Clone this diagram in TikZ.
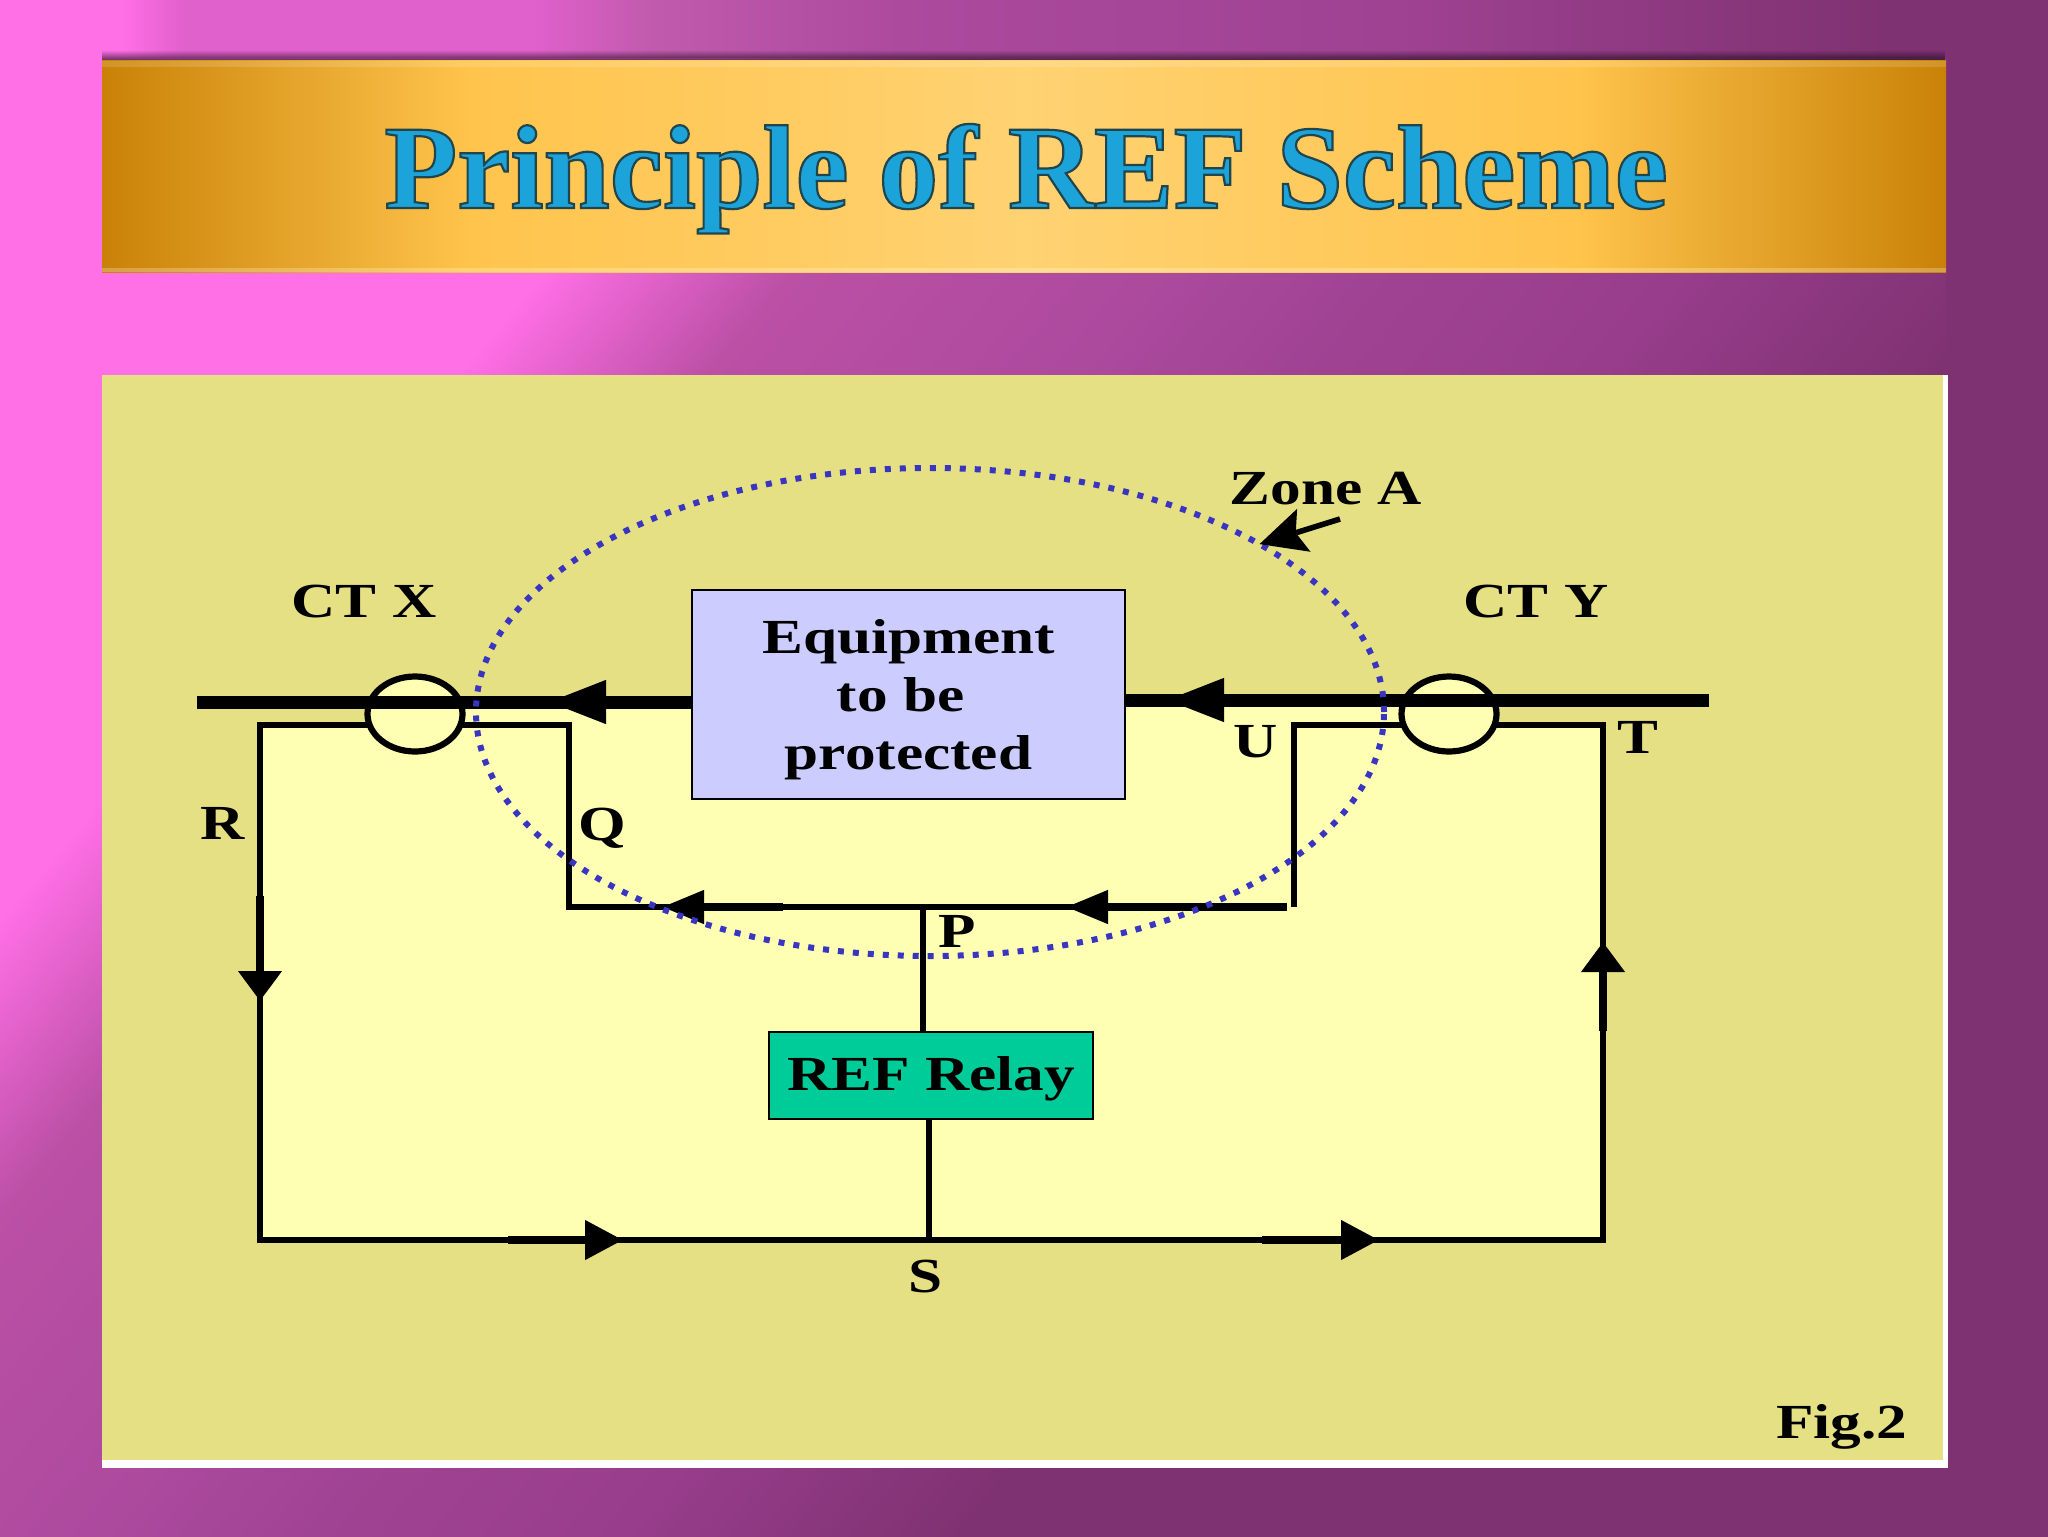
\documentclass[tikz,border=0pt]{standalone}
\usepackage{fontspec}
\setmainfont{Liberation Serif}[FakeStretch=1.25]
\newfontfamily\titlefont{Liberation Serif Bold}
\usetikzlibrary{arrows.meta,shapes.geometric,fadings}

\definecolor{bgpink}{HTML}{FF6FE6}
\definecolor{bgmidA}{HTML}{BB50A5}
\definecolor{bgmidB}{HTML}{AC4A9E}
\definecolor{bgmidC}{HTML}{9F4292}
\definecolor{bgmidD}{HTML}{983D8C}
\definecolor{bgdark}{HTML}{7F3272}
\definecolor{bgtopA}{HTML}{E060CC}
\definecolor{bgtopB}{HTML}{C05AAC}
\definecolor{goldedge}{HTML}{C98207}
\definecolor{goldA}{HTML}{FFC44C}
\definecolor{goldB}{HTML}{FFD272}
\definecolor{panelcol}{HTML}{E6E084}
\definecolor{loopcol}{HTML}{FFFFB3}
\definecolor{eqcol}{HTML}{CCCCFF}
\definecolor{relaycol}{HTML}{00CC99}
\definecolor{zonecol}{HTML}{3A35C0}
\definecolor{titlecol}{HTML}{1BA3DA}

% background runs along a tilted axis, stops are in the middle 50bp
\pgfdeclarehorizontalshading{slidebg}{100bp}{color(0bp)=(bgpink); color(36.8bp)=(bgpink);
  color(40.5bp)=(bgmidA); color(45.9bp)=(bgmidB); color(49.5bp)=(bgmidC); color(53.5bp)=(bgmidD);
  color(58.5bp)=(bgdark); color(100bp)=(bgdark)}
\pgfdeclarehorizontalshading{slidetop}{100bp}{color(0bp)=(bgpink); color(28bp)=(bgpink); color(29.5bp)=(bgtopA);
  color(38bp)=(bgtopA); color(41bp)=(bgtopB); color(47bp)=(bgmidB); color(59bp)=(bgmidC); color(71bp)=(bgdark); color(100bp)=(bgdark)}
\pgfdeclarehorizontalshading{titlebar}{100bp}{color(0bp)=(goldedge); color(25bp)=(goldedge); color(35bp)=(goldA);
  color(50bp)=(goldB); color(65bp)=(goldA); color(75bp)=(goldedge); color(100bp)=(goldedge)}

\tikzset{
  lbl/.style={font=\fontsize{24.5}{29}\selectfont\bfseries, inner sep=0pt, text=black},
  box/.style={draw=black, line width=1pt, inner sep=0pt, outer sep=0pt, align=center,
    font=\fontsize{24.5}{29}\selectfont\bfseries},
  ct/.style={ellipse, draw=black, fill=loopcol, line width=3.1pt, inner sep=0pt, outer sep=0pt,
    minimum width=47.5pt, minimum height=37.5pt},
  bus/.style={line width=6.5pt},
  wire/.style={line width=3.1pt, line cap=square},
  stub/.style={line width=3.8pt},
  bigtip/.style={-{Triangle[length=29.5pt,width=20pt]}},
  smalltip/.style={-{Triangle[length=21pt,width=16pt]}},
  sidetip/.style={-{Triangle[length=15pt,width=21pt]}},
  bottip/.style={-{Triangle[length=19pt,width=19pt]}},
}

\begin{document}
\begin{tikzpicture}[x=0.5pt,y=-0.5pt]
\useasboundingbox (0,0) rectangle (2048,1536);

% slide background
\begin{scope}
\clip (0,0) rectangle (2048,1536);
\begin{scope}[transform canvas={rotate around={-40:(1024,768)}}]
\shade[shading=slidebg] (-276,-532) rectangle (2324,2068);
\end{scope}
\shade[shading=slidetop] (0,0) rectangle (2048,58);
\fill[bgdark] (1946,58) rectangle (2048,1536);
\end{scope}

% title bar
\fill[black!90!bgdark, opacity=.75, path fading=north] (102,50) rectangle (1946,62);
\shade[shading=titlebar] (102,61) rectangle (1946,272);
\fill[white, opacity=.15] (102,61) rectangle (1946,67);
\fill[white, opacity=.25] (102,268) rectangle (1946,272);
\node[inner sep=0pt, anchor=base, text=titlecol, font=\titlefont\fontsize{59.7}{70}\selectfont] (title) at (1026,208)
  {\rlap{\char"2009}\special{pdf:code 2 Tr 1.1 w 0.13 0.27 0.3 RG}Principle of REF Scheme\special{pdf:code 0 Tr}};

% panel
\fill[white] (102,375) rectangle (1948,1468);
\fill[panelcol] (102,375) rectangle (1943,1460);
\fill[loopcol] (260,725) -- (415,725) -- (415,702) -- (1449,702) -- (1449,725) -- (1603,725) -- (1603,1240) -- (260,1240) -- cycle;

% junctions
\coordinate (busL) at (197,702);
\coordinate (busR) at (1709,700);
\coordinate (tipA) at (547,702);
\coordinate (tipB) at (1165,700);
\coordinate (corR) at (260,725);
\coordinate (corQ) at (569,725);
\coordinate (corU) at (1294,725);
\coordinate (corT) at (1603,725);
\coordinate (xL) at (369,725);
\coordinate (xR) at (461,725);
\coordinate (yL) at (1404,725);
\coordinate (yR) at (1495,725);
\coordinate (botQ) at (569,907);
\coordinate (botU) at (1294,907);
\coordinate (endU) at (1287,907);
\coordinate (nodeP) at (923,907);
\coordinate (tipQ) at (662,907);
\coordinate (tailQ) at (783,907);
\coordinate (tipU) at (1066,907);
\coordinate (tailU) at (1287,907);
\coordinate (botR) at (260,1240);
\coordinate (botT) at (1603,1240);
\coordinate (nodeS) at (929,1240);
\coordinate (tailR) at (260,896);
\coordinate (tipR) at (260,1001);
\coordinate (tailT) at (1603,1031);
\coordinate (tipT) at (1603,942);
\coordinate (tailS1) at (508,1240);
\coordinate (tipS1) at (623,1240);
\coordinate (tailS2) at (1262,1240);
\coordinate (tipS2) at (1379,1240);
\coordinate (zoneTail) at (1340,519);

% boxes and CTs
\node[ct] (ctx) at (415,714) {};
\node[ct] (cty) at (1449,714) {};
\node[box, fill=eqcol, minimum width=216.5pt, minimum height=104.5pt] (eq) at (908.5,694.5)
  {\rule{0pt}{22pt}Equipment\\to be\rule{8pt}{0pt}\\protected};
\node[box, fill=relaycol, minimum width=162pt, minimum height=43.5pt] (relay) at (931,1075)
  {\rule{0pt}{21pt}REF Relay};

% primary bus
\draw[bus] (eq.west |- tipA) -- (busL);
\draw[bus] (busR) -- (eq.east |- tipB);
\draw[bus, bigtip] (eq.west |- tipA) -- (tipA);
\draw[bus, bigtip] (busR) -- (tipB);

% secondary wiring
\draw[wire] (xL) -- (corR) -- (botR) -- (botT) -- (corT) -- (yR);
\draw[wire] (xR) -- (corQ) -- (botQ) -- (nodeP);
\draw[wire] (yL) -- (corU) -- (botU);
\draw[wire] (endU) -- (nodeP);
\draw[wire] (nodeP) -- (relay.north -| nodeP);
\draw[wire] (relay.south -| nodeS) -- (nodeS);

% current direction arrows
\draw[stub, smalltip] (tailQ) -- (tipQ);
\draw[stub, smalltip] (tailU) -- (tipU);
\draw[stub, sidetip] (tailR) -- (tipR);
\draw[stub, sidetip] (tailT) -- (tipT);
\draw[stub, bottip] (tailS1) -- (tipS1);
\draw[stub, bottip] (tailS2) -- (tipS2);

% zone boundary
\node[ellipse, draw=zonecol, line width=3pt, dash pattern=on 3pt off 4.5pt, inner sep=0pt, outer sep=0pt,
  minimum width=454pt, minimum height=244pt] (zone) at (930,712) {};
\draw[line width=2.8pt, -{Stealth[length=23pt,width=22pt,inset=4pt]}] (zoneTail) -- (zone.27);

% labels
\node[lbl] (lctx) at (364,602) {CT X};
\node[lbl] (lcty) at (1536,602) {CT Y};
\node[lbl] (lzone) at (1326,489) {Zone A};
\node[lbl] (lu) at (1256,742) {U};
\node[lbl] (lt) at (1638,737) {T};
\node[lbl] (lr) at (223,823) {R};
\node[lbl] (lq) at (602,828) {Q};
\node[lbl] (lp) at (957,931) {P};
\node[lbl] (ls) at (926,1276) {S};
\node[lbl] (lfig) at (1842,1427) {Fig.2};
\end{tikzpicture}
\end{document}
